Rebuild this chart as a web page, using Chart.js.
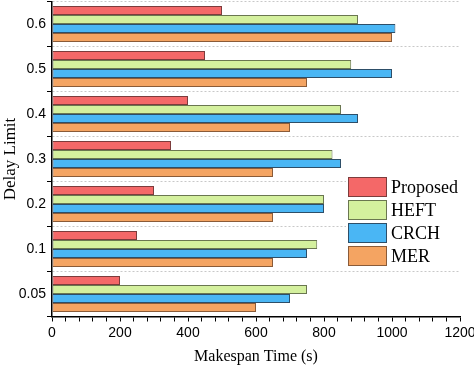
<!DOCTYPE html>
<html>
<head>
<meta charset="utf-8">
<script src="https://cdn.jsdelivr.net/npm/chart.js@4"></script>
<style>
  body { margin: 0; background: #fff; }
  #wrap { width: 474px; height: 369px; position: relative; }
</style>
</head>
<body>
<div id="wrap"><canvas id="chart"></canvas></div>
<script>
// delay limits, listed top to bottom as in the figure
const delayLimits = ['0.6', '0.5', '0.4', '0.3', '0.2', '0.1', '0.05'];

const proposed = [500, 450, 400, 350, 300, 250, 200];
const heft = [900, 880, 850, 825, 800, 780, 750];
const crch = [1010, 1000, 900, 850, 800, 750, 700];
const mer = [1000, 750, 700, 650, 650, 650, 600];

const seriesNames = ['Proposed', 'HEFT', 'CRCH', 'MER'];
const fills = ['#f46868', '#d4f09e', '#4ab6f4', '#f4a462'];
const edges = ['#7c3c3c', '#6a7650', '#2d4e68', '#8a5b38'];

const serifFont = '"Liberation Serif", "Times New Roman", serif';
const sansFont = '"Liberation Sans", Arial, sans-serif';

// legend drawn inside the plot, like the original figure
const innerLegend = {
  id: 'innerLegend',
  afterDatasetsDraw(chart) {
    const ctx = chart.ctx;
    const area = chart.chartArea;
    const x0 = Math.round(area.left + 296);
    let y = Math.round(area.top + 175);
    ctx.save();
    ctx.font = '18px ' + serifFont;
    ctx.textBaseline = 'middle';
    chart.data.datasets.forEach(ds => {
      ctx.fillStyle = '#fff';
      ctx.fillRect(x0 - 2, y - 1, 116, 22);
      ctx.fillStyle = ds.backgroundColor;
      ctx.fillRect(x0, y, 39, 20);
      ctx.strokeStyle = ds.borderColor;
      ctx.lineWidth = 1;
      ctx.strokeRect(x0 + 0.5, y + 0.5, 38, 19);
      ctx.fillStyle = '#000';
      ctx.fillText(ds.label, x0 + 43, y + 11);
      y += 22.5;
      y = Math.round(y);
    });
    ctx.restore();
  }
};

const values = [proposed, heft, crch, mer];

new Chart(document.getElementById('chart'), {
  type: 'bar',
  data: {
    labels: delayLimits,
    datasets: values.map((v, i) => ({
      label: seriesNames[i],
      data: v,
      backgroundColor: fills[i],
      borderColor: edges[i],
      borderWidth: 1,
      borderSkipped: false,
      inflateAmount: 0,
      categoryPercentage: 0.8,
      barPercentage: 1.0,
    })),
  },
  plugins: [innerLegend],
  options: {
    indexAxis: 'y',
    responsive: true,
    maintainAspectRatio: false,
    animation: false,
    layout: { padding: { left: 0, right: 14, top: 1.5, bottom: 0 } },
    plugins: {
      legend: { display: false },
      tooltip: { enabled: false },
    },
    scales: {
      x: {
        min: 0,
        max: 1200,
        afterFit(scale) {
          scale.height = 52.5;
          scale.paddingRight = 0;
          scale.paddingLeft = 0;
        },
        ticks: {
          stepSize: 40,
          autoSkip: false,
          maxRotation: 0,
          padding: 3,
          color: '#000',
          font: { family: sansFont, size: 14 },
          callback: v => (v % 200 === 0 ? v : ''),
        },
        grid: {
          drawOnChartArea: false,
          drawTicks: true,
          tickLength: 5,
          tickColor: '#000',
          tickWidth: 1,
        },
        border: { color: '#000', width: 1.5 },
        title: {
          display: true,
          text: 'Makespan Time (s)',
          color: '#000',
          font: { family: serifFont, size: 16 },
          padding: { top: 0, bottom: 3 },
        },
      },
      y: {
        afterFit(scale) {
          scale.width = 52;
          scale.paddingTop = 0;
          scale.paddingBottom = 0;
        },
        ticks: {
          padding: 1,
          color: '#000',
          font: { family: sansFont, size: 14 },
        },
        grid: {
          offset: true,
          color: '#c8c8c8',
          lineWidth: 1,
          tickLength: 5,
          tickColor: '#000',
          tickBorderDash: [],
        },
        border: { color: '#000', width: 1.5, dash: [2, 2] },
        title: {
          display: true,
          text: 'Delay Limit',
          color: '#000',
          font: { family: serifFont, size: 17 },
          padding: { top: 0, bottom: 0 },
        },
      },
    },
  },
});
</script>
</body>
</html>
